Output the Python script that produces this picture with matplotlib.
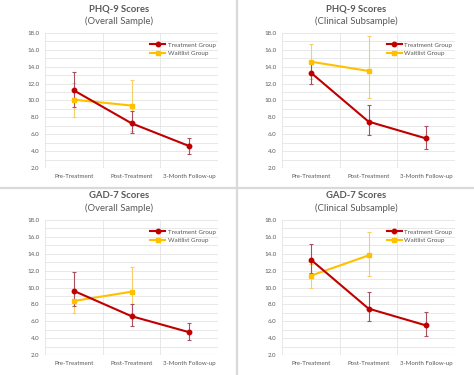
import matplotlib.pyplot as plt
from matplotlib.lines import Line2D

plt.rcParams['font.family'] = ['Lato', 'DejaVu Sans']

categories = ['Pre-Treatment', 'Post-Treatment', '3-Month Follow-up']
titles = ['PHQ-9 Scores', 'PHQ-9 Scores', 'GAD-7 Scores', 'GAD-7 Scores']
subtitles = ['(Overall Sample)', '(Clinical Subsample)', '(Overall Sample)', '(Clinical Subsample)']
y_ticks = [2.0, 4.0, 6.0, 8.0, 10.0, 12.0, 14.0, 16.0, 18.0]

# treatment group: mean, lower error, upper error
treat_mean = [[11.2, 7.3, 4.6], [13.3, 7.5, 5.5], [9.6, 6.6, 4.7], [13.3, 7.5, 5.5]]
treat_lo = [[2.0, 1.2, 0.9], [1.4, 1.6, 1.3], [1.8, 1.2, 0.9], [1.6, 1.5, 1.3]]
treat_hi = [[2.2, 1.4, 1.0], [1.4, 2.0, 1.5], [2.2, 1.4, 1.1], [1.8, 2.0, 1.6]]

# waitlist group: mean, lower error, upper error
wait_mean = [[10.1, 9.4], [14.6, 13.5], [8.4, 9.5], [11.4, 13.8]]
wait_lo = [[2.0, 3.0], [2.1, 3.2], [1.4, 2.9], [1.4, 2.4]]
wait_hi = [[2.0, 3.0], [2.1, 4.2], [1.4, 2.9], [1.4, 2.8]]

red = '#C00000'
yellow = '#FFC000'
txt = '#595959'
grid = '#E4E4E4'

W, H = 474, 375
fig = plt.figure(figsize=(W / 100, H / 100), dpi=100)
fig.patch.set_facecolor('white')

# panel separators
fig.add_artist(Line2D([237 / W, 237 / W], [0, 1], color='#D9D9D9', lw=1.6))
fig.add_artist(Line2D([0, 1], [1 - 187.5 / H, 1 - 187.5 / H], color='#D9D9D9', lw=1.6))

offsets = [(0, 0), (237, 0), (0, 187), (237, 187)]
x_pos = [0.5, 1.5, 2.5]

for i in range(4):
    ox, oy = offsets[i]
    left, right, top, bottom = 45 + ox, 218 + ox, 33 + oy, 168 + oy
    ax = fig.add_axes([left / W, 1 - bottom / H, (right - left) / W, (bottom - top) / H])
    ax.set_xlim(0, 3)
    ax.set_ylim(2, 18)
    for s in ax.spines.values():
        s.set_visible(False)
    for yv in range(3, 19):
        ax.axhline(yv, color=grid, lw=0.6, zorder=0)
    for xv in [0, 1, 2, 3]:
        ax.axvline(xv, color=grid, lw=0.6, zorder=0)
    ax.axhline(2, color='#D0D0D0', lw=0.8, zorder=0)

    ax.errorbar(x_pos[:2], wait_mean[i], yerr=[wait_lo[i], wait_hi[i]], fmt='none',
                ecolor='#F7CF6A', elinewidth=0.8, capsize=1.5, capthick=0.8, zorder=2)
    ax.errorbar(x_pos, treat_mean[i], yerr=[treat_lo[i], treat_hi[i]], fmt='none',
                ecolor='#A8505E', elinewidth=0.8, capsize=1.5, capthick=0.8, zorder=2)
    ax.plot(x_pos, treat_mean[i], color=red, lw=1.5, marker='o', ms=3.2,
            label='Treatment Group', zorder=4)
    ax.plot(x_pos[:2], wait_mean[i], color=yellow, lw=1.5, marker='s', ms=3.0,
            label='Waitlist Group', zorder=3)

    ax.set_xticks(x_pos)
    ax.set_xticklabels(categories, fontsize=4.4, color=txt)
    ax.set_yticks(y_ticks)
    ax.set_yticklabels(['%.1f' % v for v in y_ticks], fontsize=4.4, color=txt)
    ax.tick_params(length=0, pad=4)

    leg = ax.legend(loc='upper right', bbox_to_anchor=(1.0, 0.95), frameon=False,
                    fontsize=4.5, handlelength=2.4, handletextpad=0.4, labelspacing=0.45,
                    borderaxespad=0)
    for t in leg.get_texts():
        t.set_color(txt)

    cx = (ox + 119) / W
    fig.text(cx, 1 - (oy + 9) / H, titles[i], ha='center', va='center',
             fontsize=6.8, fontweight='bold', color=txt)
    fig.text(cx, 1 - (oy + 21) / H, subtitles[i], ha='center', va='center',
             fontsize=6.8, color=txt)

fig.savefig('out.png', dpi=100)
